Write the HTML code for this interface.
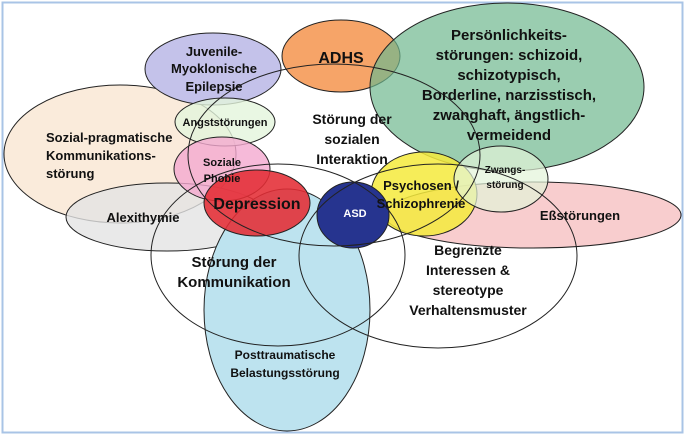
<!DOCTYPE html>
<html><head><meta charset="utf-8"><style>
html,body{margin:0;padding:0;background:#fff;}
svg{display:block;}
text{font-family:"Liberation Sans",Arial,sans-serif;font-weight:bold;text-anchor:middle;fill:#111;}
text.l{text-anchor:start;}
</style></head><body>
<svg width="685" height="435" viewBox="0 0 685 435" xmlns="http://www.w3.org/2000/svg">
<rect x="2.5" y="2.5" width="680" height="430" fill="#fff" stroke="#a9c4e6" stroke-width="2"/>
<g stroke="#222" stroke-width="1">
<ellipse cx="120" cy="154" rx="116" ry="69" fill="#f9e6d2" fill-opacity="0.8"/>
<ellipse cx="167" cy="217" rx="101" ry="34" fill="#e3e3e3" fill-opacity="0.8"/>
<ellipse cx="287" cy="310" rx="83" ry="121" fill="#bde3ef"/>
<ellipse cx="533" cy="215" rx="148" ry="33" fill="#f7c4c6" fill-opacity="0.85"/>
<ellipse cx="213" cy="69" rx="68" ry="36" fill="#c4c2ea"/>
<ellipse cx="341" cy="56" rx="59" ry="36" fill="#f6a468"/>
<ellipse cx="507" cy="87" rx="137" ry="84" fill="#6fb88f" fill-opacity="0.7"/>
<ellipse cx="225" cy="122" rx="50" ry="24" fill="#e4f5dc" fill-opacity="0.8"/>
<ellipse cx="222" cy="169" rx="48" ry="32" fill="#f4a9d0" fill-opacity="0.8"/>
<ellipse cx="257" cy="203" rx="53" ry="33" fill="#e42c34" fill-opacity="0.88"/>
<ellipse cx="424" cy="194" rx="53" ry="42" fill="#f4ea3c" fill-opacity="0.85"/>
<ellipse cx="501" cy="179" rx="47" ry="33" fill="#e3f4d8" fill-opacity="0.7"/>
<ellipse cx="353" cy="215" rx="36" ry="33" fill="#26348f"/>
<ellipse cx="334" cy="155" rx="146" ry="91" fill="none"/>
<ellipse cx="278" cy="255" rx="127" ry="91" fill="none"/>
<ellipse cx="438" cy="256" rx="139" ry="92" fill="none"/>
</g>
<g font-size="15">
<text x="509" y="40">Persönlichkeits-</text>
<text x="509" y="60">störungen: schizoid,</text>
<text x="509" y="80">schizotypisch,</text>
<text x="509" y="100">Borderline, narzisstisch,</text>
<text x="509" y="120">zwanghaft, ängstlich-</text>
<text x="509" y="140">vermeidend</text>
</g>
<text x="341" y="63" font-size="16">ADHS</text>
<g font-size="13">
<text x="214" y="56">Juvenile-</text>
<text x="214" y="73">Myoklonische</text>
<text x="214" y="91">Epilepsie</text>
</g>
<text x="225" y="126" font-size="11">Angststörungen</text>
<g font-size="13">
<text class="l" x="46" y="142">Sozial-pragmatische</text>
<text class="l" x="46" y="160">Kommunikations-</text>
<text class="l" x="46" y="178">störung</text>
</g>
<g font-size="11">
<text x="222" y="166">Soziale</text>
<text x="222" y="182">Phobie</text>
</g>
<g font-size="14">
<text x="352" y="124">Störung der</text>
<text x="352" y="144">sozialen</text>
<text x="352" y="164">Interaktion</text>
</g>
<text x="257" y="209" font-size="16">Depression</text>
<text x="355" y="217" font-size="11" style="fill:#fff">ASD</text>
<g font-size="13">
<text x="421" y="190">Psychosen /</text>
<text x="421" y="208">Schizophrenie</text>
</g>
<g font-size="10">
<text x="505" y="173">Zwangs-</text>
<text x="505" y="188">störung</text>
</g>
<text x="580" y="220" font-size="13">Eßstörungen</text>
<text x="143" y="222" font-size="13">Alexithymie</text>
<g font-size="15">
<text x="234" y="267">Störung der</text>
<text x="234" y="287">Kommunikation</text>
</g>
<g font-size="14">
<text x="468" y="255">Begrenzte</text>
<text x="468" y="275">Interessen &amp;</text>
<text x="468" y="295">stereotype</text>
<text x="468" y="315">Verhaltensmuster</text>
</g>
<g font-size="12">
<text x="285" y="359">Posttraumatische</text>
<text x="285" y="377">Belastungsstörung</text>
</g>
</svg>
</body></html>
